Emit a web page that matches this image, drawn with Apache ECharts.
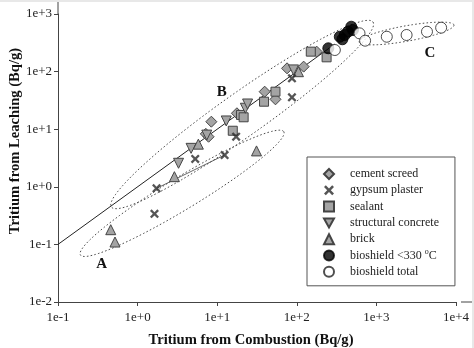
<!DOCTYPE html>
<html>
<head>
<meta charset="utf-8">
<script src="https://cdn.jsdelivr.net/npm/echarts@6/dist/echarts.min.js"></script>
<style>
  html, body { margin: 0; padding: 0; background: #e8e8e8; width: 474px; height: 348px; overflow: hidden; }
  #chart { position: absolute; left: 0; top: 2px; width: 472px; height: 346px; background: #ffffff; }
</style>
</head>
<body>
<div id="chart"></div>
<script>
// ---- data ----
const xTickLabels = ['1e-1', '1e+0', '1e+1', '1e+2', '1e+3', '1e+4'];
const yTickLabels = ['1e-2', '1e-1', '1e+0', '1e+1', '1e+2', '1e+3'];

const cementScreed = [[7.2, 8.3], [7.8, 7.4], [8.45, 13.5], [17.7, 18.9], [39.5, 44.8], [54, 33], [75.5, 114], [122, 122], [178, 222]];
const gypsumPlaster = [[1.63, 0.34], [1.73, 0.94], [5.3, 3.04], [12.4, 3.56], [17.3, 7.4], [87, 35.8], [87, 76.5]];
const sealant = [[15.7, 9.4], [19.9, 17.7], [21.5, 16.1], [38.8, 30], [54, 44.8], [150, 222], [237, 177]];
const structuralConcrete = [[3.27, 2.56], [4.7, 4.65], [7.4, 7.9], [13, 13.9], [22.6, 23.1], [24.1, 27.4], [91, 107]];
const brick = [[0.46, 0.18], [0.52, 0.11], [2.9, 1.5], [5.8, 5.5], [31.2, 4.2], [105, 99.6]];
const bioshield330 = [[249, 254], [347, 403], [374, 364], [400, 432], [440, 493], [484, 602], [508, 527]];
const bioshieldTotal = [[301, 237], [614, 462], [722, 344], [1352, 403], [2399, 432], [4325, 493], [6514, 578]];

// 1:1 line and the group-A trend line (data coordinates)
const oneToOneLine = [[0.1, 0.1], [300, 300]];
const groupALine = [[1.73, 0.94], [12.4, 3.56]];

// grouping ellipses: major-axis end points in data coordinates + minor/major ratio
const ellipseA = [0.191, 0.0655, 68.7, 9.06, 0.135];
const ellipseB = [0.468, 0.446, 908, 726, 0.136];
const ellipseC = [608, 327, 9440, 644, 0.16];

const seriesNames = ['cement screed', 'gypsum plaster', 'sealant', 'structural concrete', 'brick', 'bioshield <330 °C', 'bioshield total'];

// ---- chart ----
const chart = echarts.init(document.getElementById('chart'), null, { renderer: 'canvas' });
const FONT = '"Liberation Serif", "Times New Roman", serif';
const grayFill = '#a4a4a4';
const edge = '#444';
const crossPath = 'path://M0,1.8 L1.8,0 L5,3.2 L8.2,0 L10,1.8 L6.8,5 L10,8.2 L8.2,10 L5,6.8 L1.8,10 L0,8.2 L3.2,5 Z';
const downTriangle = 'path://M0,0 L10,0 L5,9 Z';

function ellipseRender(params, api) {
  const p1 = api.coord([api.value(0), api.value(1)]);
  const p2 = api.coord([api.value(2), api.value(3)]);
  const ratio = api.value(4);
  const cx = (p1[0] + p2[0]) / 2, cy = (p1[1] + p2[1]) / 2;
  const dx = p2[0] - p1[0], dy = p2[1] - p1[1];
  const a = Math.sqrt(dx * dx + dy * dy) / 2;
  const b = a * ratio;
  const ang = Math.atan2(dy, dx);
  const ca = Math.cos(ang), sa = Math.sin(ang);
  const pts = [];
  const N = 120;
  for (let k = 0; k < N; k++) {
    const t = 2 * Math.PI * k / N;
    const lx = a * Math.cos(t), ly = b * Math.sin(t);
    pts.push([cx + lx * ca - ly * sa, cy + lx * sa + ly * ca]);
  }
  return {
    type: 'polygon',
    shape: { points: pts },
    silent: true,
    style: { fill: 'none', stroke: '#4a4a4a', lineWidth: 1, lineDash: [1.6, 2.2] }
  };
}

const scatterBase = {
  type: 'scatter',
  z: 5,
  itemStyle: { color: grayFill, borderColor: edge, borderWidth: 1, opacity: 1 },
  emphasis: { disabled: true }
};

const option = {
  animation: false,
  textStyle: { fontFamily: FONT },
  grid: { left: 58, right: 11, top: 12, bottom: 46, containLabel: false },
  xAxis: {
    type: 'log', logBase: 10, min: 0.1, max: 10000,
    axisLine: { show: true, lineStyle: { color: '#444', width: 1 } },
    axisTick: { show: true, length: 4, inside: false, lineStyle: { color: '#444' } },
    minorTick: { show: false },
    splitLine: { show: false },
    axisLabel: {
      margin: 9, color: '#222', fontSize: 13, fontFamily: FONT,
      formatter: (v, i) => xTickLabels[i] !== undefined ? xTickLabels[i] : ''
    }
  },
  yAxis: {
    type: 'log', logBase: 10, min: 0.01, max: 1000,
    axisLine: { show: true, lineStyle: { color: '#444', width: 1 } },
    axisTick: { show: true, length: 4, inside: false, lineStyle: { color: '#444' } },
    splitLine: { show: false },
    axisLabel: {
      margin: 6, color: '#222', fontSize: 13, fontFamily: FONT,
      formatter: (v, i) => yTickLabels[i] !== undefined ? yTickLabels[i] : ''
    }
  },
  legend: {
    data: seriesNames.map((n, i) => i === 3 ? { name: n, icon: downTriangle } : n),
    orient: 'vertical',
    left: 307, top: 155,
    padding: [9, 16, 6, 16],
    itemWidth: 10, itemHeight: 10, itemGap: 0.3,
    symbolKeepAspect: true,
    borderColor: '#555', borderWidth: 1,
    backgroundColor: '#fff',
    selectedMode: false,
    textStyle: {
      fontFamily: FONT, fontSize: 12, color: '#222', lineHeight: 16, padding: [0, 0, 0, 11],
      rich: { sup: { fontSize: 8, verticalAlign: 'top', lineHeight: 16, padding: [0, 0, 7, 0] } }
    },
    formatter: (name) => name === 'bioshield <330 °C' ? 'bioshield <330 {sup|o}C' : name
  },
  graphic: [
    { type: 'line', silent: true, shape: { x1: 58, y1: 0, x2: 58, y2: 12 }, style: { stroke: '#444', lineWidth: 1 } },
    { type: 'line', silent: true, shape: { x1: 461, y1: 300, x2: 472, y2: 300 }, style: { stroke: '#444', lineWidth: 1 } },
    { type: 'text', silent: true, x: 251, y: 338, style: { text: 'Tritium from Combustion (Bq/g)', font: 'bold 14.6px ' + FONT, fill: '#111', align: 'center', verticalAlign: 'middle' } },
    { type: 'text', silent: true, x: 15, y: 139, rotation: Math.PI / 2, style: { text: 'Tritium from Leaching (Bq/g)', font: 'bold 14.6px ' + FONT, fill: '#111', align: 'center', verticalAlign: 'middle' } },
    { type: 'text', silent: true, x: 101.7, y: 262, style: { text: 'A', font: 'bold 15px ' + FONT, fill: '#111', align: 'center', verticalAlign: 'middle' } },
    { type: 'text', silent: true, x: 221.7, y: 90.3, style: { text: 'B', font: 'bold 15px ' + FONT, fill: '#111', align: 'center', verticalAlign: 'middle' } },
    { type: 'text', silent: true, x: 430, y: 51.3, style: { text: 'C', font: 'bold 15px ' + FONT, fill: '#111', align: 'center', verticalAlign: 'middle' } }
  ],
  series: [
    {
      type: 'custom', name: 'ellipses', silent: true, z: 1,
      renderItem: ellipseRender,
      encode: { x: [0, 2], y: [1, 3] },
      data: [ellipseA, ellipseB, ellipseC]
    },
    {
      type: 'line', name: '1:1', data: oneToOneLine, z: 2, silent: true,
      symbol: 'none', lineStyle: { color: '#222', width: 1 }
    },
    {
      type: 'line', name: 'A trend', data: groupALine, z: 2, silent: true,
      symbol: 'none', lineStyle: { color: '#444', width: 0.8 }
    },
    Object.assign({}, scatterBase, { name: seriesNames[0], data: cementScreed, symbol: 'diamond', symbolSize: 11 }),
    Object.assign({}, scatterBase, { name: seriesNames[2], data: sealant, symbol: 'rect', symbolSize: 9 }),
    Object.assign({}, scatterBase, { name: seriesNames[3], data: structuralConcrete, symbol: downTriangle, symbolSize: 10 }),
    Object.assign({}, scatterBase, { name: seriesNames[4], data: brick, symbol: 'triangle', symbolSize: 10 }),
    Object.assign({}, scatterBase, { name: seriesNames[1], data: gypsumPlaster, symbol: crossPath, symbolSize: 9, itemStyle: { color: '#2a2a2a', borderWidth: 0 } }),
    Object.assign({}, scatterBase, { name: seriesNames[5], data: bioshield330, symbol: 'circle', symbolSize: 11, itemStyle: { color: '#000', borderColor: '#000', borderWidth: 1 } }),
    Object.assign({}, scatterBase, { name: seriesNames[6], data: bioshieldTotal, symbol: 'circle', symbolSize: 11, itemStyle: { color: '#fff', borderColor: '#222', borderWidth: 1 } })
  ]
};

chart.setOption(option);
</script>
</body>
</html>
